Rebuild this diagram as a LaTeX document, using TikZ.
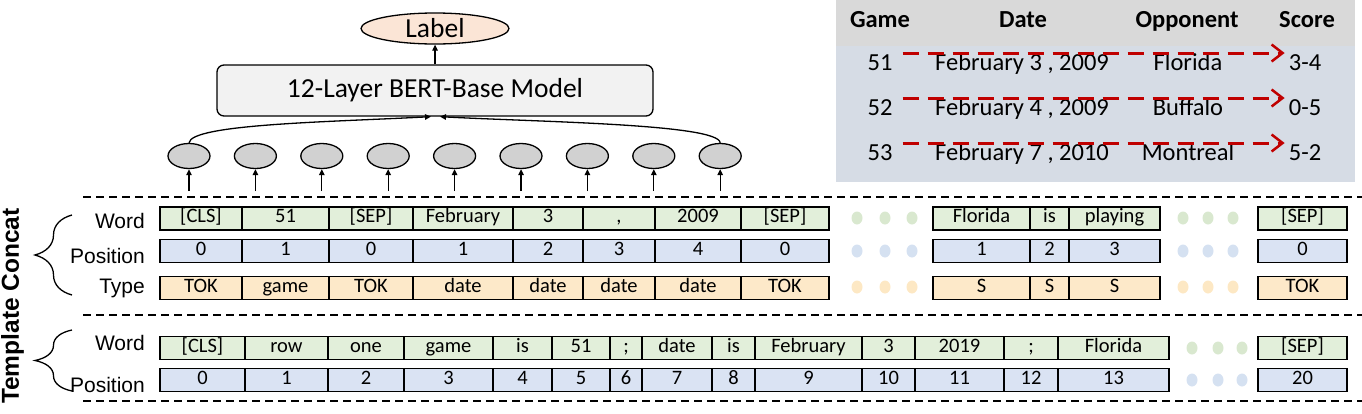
\documentclass[tikz,border=0pt]{standalone}
\usepackage{fontspec}
\setmainfont{Carlito}
\newfontfamily\arialfont{Liberation Sans}
\usepackage{xcolor}
\usepackage{tikz}
\usetikzlibrary{shapes,shapes.geometric,arrows.meta,calc,positioning,decorations.pathreplacing}
\definecolor{wordgreen}{HTML}{E2EFDA}
\definecolor{posblue}{HTML}{DAE3F3}
\definecolor{typeorange}{HTML}{FDE9C9}
\definecolor{dotgreen}{HTML}{D9E8CF}
\definecolor{dotblue}{HTML}{D5E1F1}
\definecolor{dotorange}{HTML}{FDE8C4}
\definecolor{labelpeach}{HTML}{FBE5D6}
\definecolor{headgray}{HTML}{D9D9D9}
\definecolor{bodygray}{HTML}{D6DCE5}
\definecolor{linkred}{HTML}{C00000}
\tikzset{
  cell/.style={draw, line width=1.3pt, inner sep=0pt, outer sep=0pt, minimum height=23pt, text height=0.8em, text depth=0pt, font=\fontsize{20.5}{22}\selectfont},
  wcell/.style={cell, fill=wordgreen},
  pcell/.style={cell, fill=posblue},
  tcell/.style={cell, fill=typeorange},
  emb/.style={ellipse, draw, line width=1.3pt, fill=black!18, minimum width=42pt, minimum height=25pt, inner sep=0pt},
  outnode/.style={ellipse, draw, line width=1.3pt, fill=labelpeach, minimum width=148pt, minimum height=31pt, inner sep=0pt, font=\fontsize{27.5}{30}\selectfont},
  model/.style={draw, rounded corners=7pt, line width=1.3pt, fill=black!5, minimum width=436pt, minimum height=51pt, font=\fontsize{27.5}{30}\selectfont},
  rowname/.style={anchor=base east, inner sep=0pt, font=\arialfont\fontsize{21}{23}\selectfont},
  sepline/.style={line width=1.3pt, dash pattern=on 8pt off 5pt},
  filler/.style={ellipse, minimum width=11pt, minimum height=13pt, inner sep=0pt},
  tabtext/.style={inner sep=2pt, text height=0.8em, text depth=0pt, font=\fontsize{24.5}{26}\selectfont},
  headtext/.style={tabtext, font=\bfseries\fontsize{24.5}{26}\selectfont},
  tip/.style={line width=1.3pt, -{Triangle[length=6pt,width=5.5pt]}},
  linkarr/.style={linkred, line width=3pt, dash pattern=on 16pt off 9pt, -{Straight Barb[length=11pt,width=17pt,line width=2.5pt]}},
  bracket/.style={line width=1.3pt, decorate, decoration={brace, amplitude=37pt}}
}
\begin{document}
\begin{tikzpicture}[x=1pt,y=-1pt]
\useasboundingbox (0,0) rectangle (1362,413);
% model part
\node[outnode] (label) at (435,28.5) {Label};
\node[model] (bert) at (435,90.5) {12-Layer BERT-Base Model};
\draw[tip] (bert) -- (label);
\foreach \i in {1,...,9}{
  \node[emb] (e\i) at ({189+66.4*(\i-1)},156) {};
  \coordinate (in\i) at ({189+66.4*(\i-1)},191);
  \draw[tip] (in\i) -- (e\i);
}
\draw[tip] (e1.north) .. controls (191,124) and (330,122) .. ([xshift=-4pt]bert.south);
\draw[tip] (e9.north) .. controls (719,124) and (540,122) .. ([xshift=5pt]bert.south);

% table
\fill[bodygray] (836,46) rectangle (1355,182);
\fill[headgray] (836,0) rectangle (1355,46);
\node[headtext] (hgame) at (880,23.5) {Game};
\node[headtext] (hdate) at (1023,23.5) {Date};
\node[headtext] (hopp) at (1187,23.5) {Opponent};
\node[headtext] (hscore) at (1307,23.5) {Score};
\foreach \y/\g/\d/\o/\s [count=\i] in {66/51/{February 3 , 2009}/Florida/3-4,
    111/52/{February 4 , 2009}/Buffalo/0-5, 156/53/{February 7 , 2010}/Montreal/5-2}{
  \node[tabtext] (g\i) at (880,\y) {\g};
  \node[tabtext] (d\i) at (1022,\y) {\d};
  \node[tabtext] (o\i) at (1188,\y) {\o};
  \node[tabtext] (s\i) at (1305,\y) {\s};
  \draw[linkarr] ([xshift=8pt,yshift=13pt]g\i.east) -- ([xshift=-2pt,yshift=13pt]s\i.west);
}

% separators
\draw[sepline] (83,197) -- (1362,197);
\draw[sepline] (83,315) -- (1362,315);
\draw[sepline] (83,401) -- (1362,401);

% concat block
\foreach \l/\r/\w/\p/\t [count=\i] in {160/242/{[CLS]}/0/TOK, 242/329/51/1/game,
    329/413/{[SEP]}/0/TOK, 413/513/February/1/date, 513/583/3/2/date, 583/655/{,}/3/date,
    655/741/2009/4/date, 741/829/{[SEP]}/0/TOK, 933/1030/Florida/1/S, 1030/1069/is/2/S,
    1069/1160/playing/3/S, 1258/1347/{[SEP]}/0/TOK}{
  \node[wcell, minimum width={(\r-\l)*1pt}] (cw\i) at ({(\l+\r)/2},218.5) {\w};
  \node[pcell, minimum width={(\r-\l)*1pt}] (cp\i) at ({(\l+\r)/2},251) {\p};
  \node[tcell, minimum width={(\r-\l)*1pt}] (ct\i) at ({(\l+\r)/2},288) {\t};
}
\foreach \x [count=\i] in {857,885,912,1183,1208,1233}{
  \node[filler, fill=dotgreen] (cdw\i) at (\x,218) {};
  \node[filler, fill=dotblue] (cdp\i) at (\x,251) {};
  \node[filler, fill=dotorange] (cdt\i) at (\x,287) {};
}
\node[rowname] (cword) at (145,228) {Word};
\node[rowname] (cpos) at (145,263) {Position};
\node[rowname] (ctype) at (145,293) {Type};
\draw[bracket] (72,295) -- (72,215);

% template block
\foreach \l/\r/\w/\p [count=\i] in {160/245/{[CLS]}/0, 245/328/row/1, 328/404/one/2,
    404/493/game/3, 493/552/is/4, 552/610/51/5, 610/642/;/6, 642/712/date/7, 712/755/is/8,
    755/862/February/9, 862/915/3/10, 915/1004/2019/11, 1004/1058/;/12, 1058/1169/Florida/13,
    1258/1347/{[SEP]}/20}{
  \node[wcell, minimum width={(\r-\l)*1pt}] (tw\i) at ({(\l+\r)/2},348) {\w};
  \node[pcell, minimum width={(\r-\l)*1pt}] (tp\i) at ({(\l+\r)/2},380) {\p};
}
\foreach \x [count=\i] in {1192,1218,1242}{
  \node[filler, fill=dotgreen] (tdw\i) at (\x,348) {};
  \node[filler, fill=dotblue] (tdp\i) at (\x,380) {};
}
\node[rowname] (tword) at (145,350) {Word};
\node[rowname] (tpos) at (145,392) {Position};
\draw[bracket] (72,391) -- (72,330);

\node[rotate=90, inner sep=0pt, font=\arialfont\bfseries\fontsize{24.5}{26}\selectfont] (title) at (12.5,306) {Template Concat};
\end{tikzpicture}
\end{document}
